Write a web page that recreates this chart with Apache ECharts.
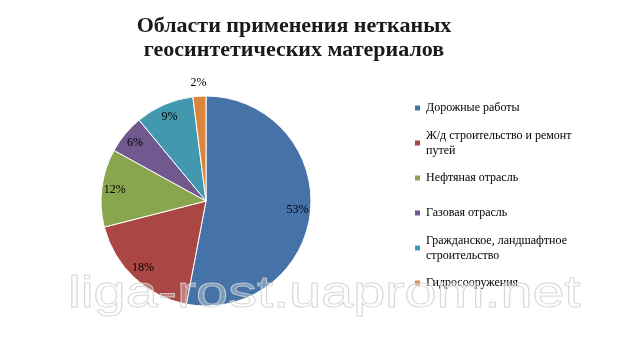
<!DOCTYPE html>
<html>
<head>
<meta charset="utf-8">
<script src="https://cdn.jsdelivr.net/npm/echarts@6/dist/echarts.min.js"></script>
<style>
html,body{margin:0;padding:0;background:#fff;}
#chart{width:640px;height:359px;}
</style>
</head>
<body>
<div id="chart"></div>
<script>
const titleText = 'Области применения нетканых\nгеосинтетических материалов';
const categories = [
  'Дорожные работы',
  'Ж/д строительство и ремонт\nпутей',
  'Нефтяная отрасль',
  'Газовая отрасль',
  'Гражданское, ландшафтное\nстроительство',
  'Гидросооружения'
];
const shares = [53, 18, 12, 6, 9, 2];
const colors = ['#4572A7', '#AA4643', '#89A54E', '#71588F', '#4198AF', '#DB843D'];
const outsideLabel = [false, false, false, false, false, true];
const watermark = 'liga-rost.uaprom.net';

const chart = echarts.init(document.getElementById('chart'), null, {renderer: 'canvas'});

const legendTops = [100.5, 120.5, 170.5, 205.5, 225.5, 275.5];
const legends = categories.map((name, i) => {
  const twoLine = name.indexOf('\n') >= 0;
  return {
    orient: 'vertical',
    left: 413,
    top: legendTops[i],
    padding: 0,
    icon: 'rect',
    itemWidth: 7,
    itemHeight: 7,
    selectedMode: false,
    data: [name],
    textStyle: {
      fontFamily: 'Liberation Serif',
      fontSize: 12,
      lineHeight: 15,
      color: '#000',
      padding: twoLine ? [15, 0, 0, 0] : 0
    }
  };
});

const realData = categories.map((n, i) => ({name: n, value: shares[i]}));
const innerLabelData = categories.map((n, i) => ({name: n, value: shares[i], label: {show: !outsideLabel[i]}}));
const outerLabelData = categories.map((n, i) => ({name: n, value: shares[i], label: {show: outsideLabel[i]}}));

const labelStyle = {
  position: 'inside',
  formatter: '{c}%',
  fontFamily: 'Liberation Serif',
  fontSize: 12,
  color: '#000'
};

chart.setOption({
  backgroundColor: '#fff',
  color: colors,
  animation: false,
  title: {
    text: titleText,
    left: 289,
    top: 9,
    textAlign: 'center',
    textStyle: {
      fontFamily: 'Liberation Serif',
      fontWeight: 'bold',
      fontSize: 22,
      lineHeight: 24,
      color: '#1a1a1a'
    }
  },
  legend: legends,
  series: [
    {
      type: 'pie',
      center: [206, 201],
      radius: 105,
      startAngle: 90,
      clockwise: true,
      label: {show: false},
      labelLine: {show: false},
      itemStyle: {borderColor: '#fff', borderWidth: 1},
      emphasis: {disabled: true},
      data: realData
    },
    {
      type: 'pie',
      center: [206, 201],
      radius: 178,
      startAngle: 90,
      clockwise: true,
      silent: true,
      itemStyle: {color: 'rgba(0,0,0,0)'},
      label: labelStyle,
      labelLine: {show: false},
      data: innerLabelData
    },
    {
      type: 'pie',
      center: [206, 201],
      radius: 230,
      startAngle: 90,
      clockwise: true,
      silent: true,
      itemStyle: {color: 'rgba(0,0,0,0)'},
      label: labelStyle,
      labelLine: {show: false},
      data: outerLabelData
    }
  ],
  graphic: [
    {
      type: 'text',
      x: 68,
      y: 295,
      scaleX: 1.31,
      z: 100,
      silent: true,
      style: {
        text: watermark,
        font: '44px "Liberation Sans"',
        fill: 'rgba(255,255,255,0.3)',
        stroke: 'rgba(200,200,200,0.85)',
        lineWidth: 0.9,
        align: 'left',
        verticalAlign: 'middle'
      }
    }
  ]
});
</script>
</body>
</html>
